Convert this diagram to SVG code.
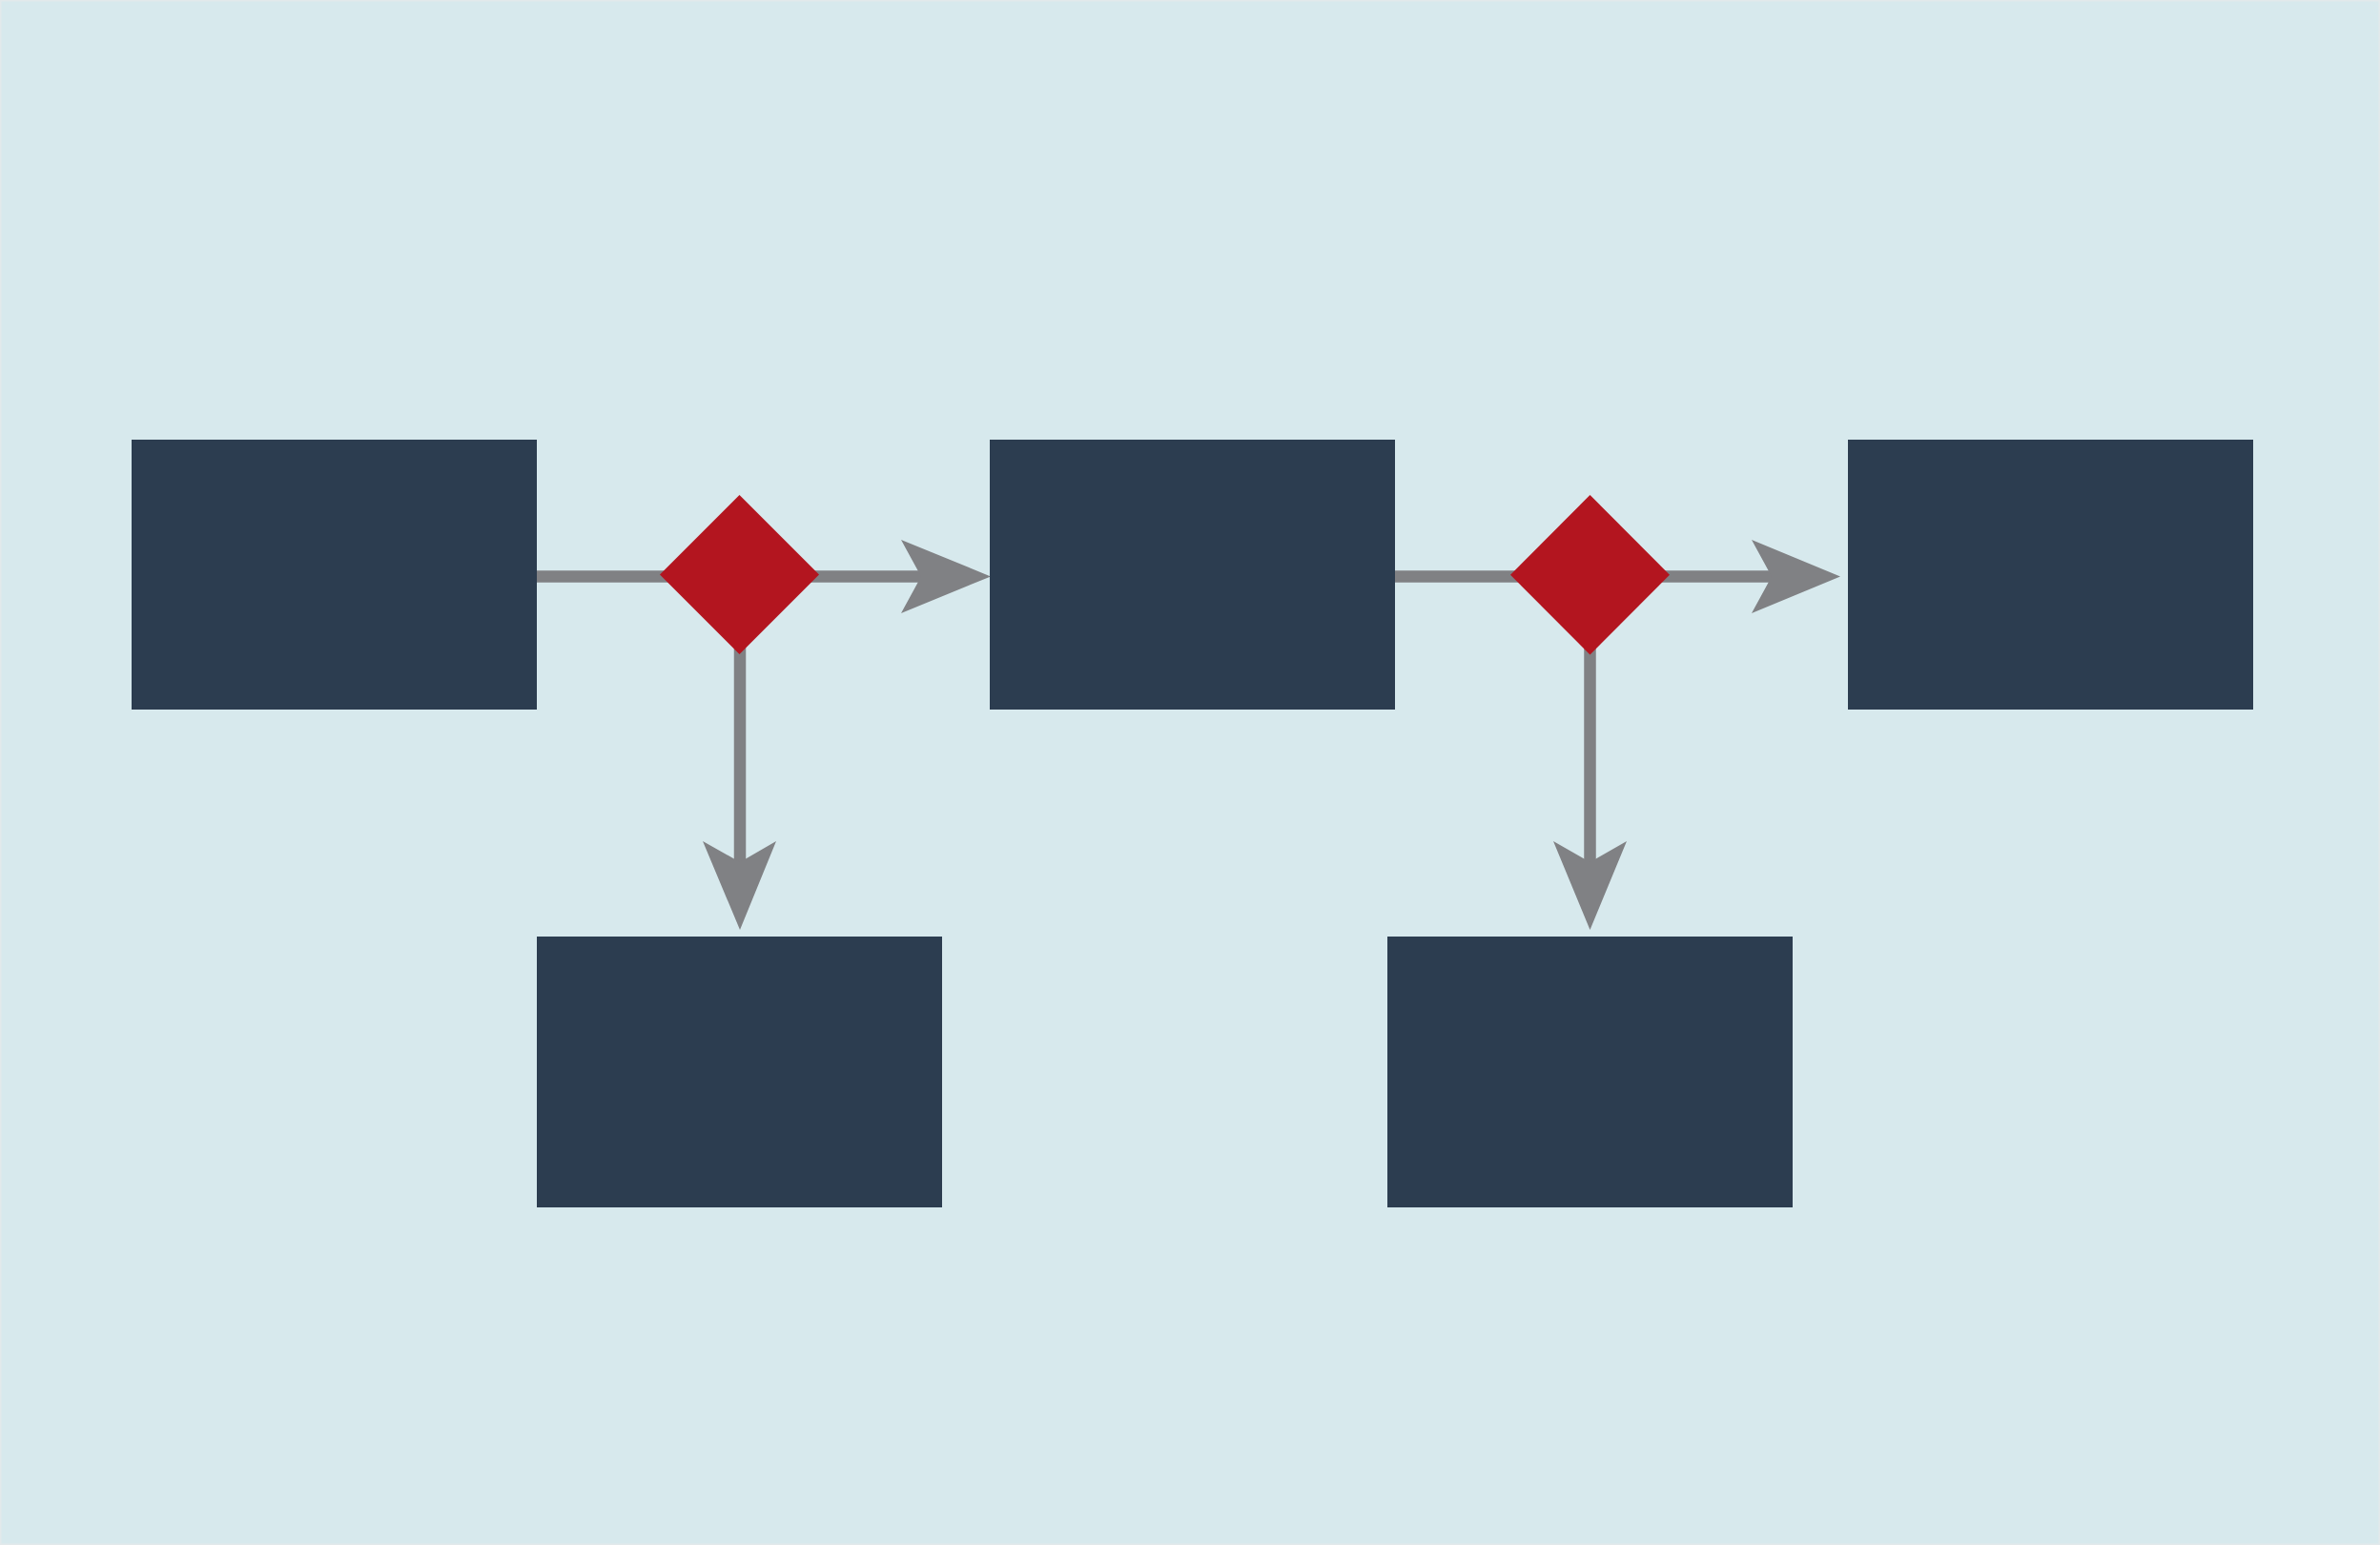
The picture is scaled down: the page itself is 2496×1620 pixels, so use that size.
<svg xmlns="http://www.w3.org/2000/svg" width="2496" height="1620" viewBox="0 0 2496 1620">
<style>
.bg{fill:#d7e9ed;stroke:#e2e9eb;stroke-width:3}
.box{fill:#2c3d50}
.dec{fill:#b3151f}
.ln{stroke:#808184;stroke-width:12.5;fill:none}
.ah{fill:#808184}
</style>
<rect class="bg" x="0" y="0" width="2496" height="1620"/>
<g id="connectors">
<line class="ln" x1="562" y1="604.4" x2="970" y2="604.4"/>
<polygon class="ah" points="1039,604.4 945,566 966,604.4 945,643"/>
<line class="ln" x1="776" y1="602" x2="776" y2="906"/>
<polygon class="ah" points="776,975 737,882 776,904 814,882"/>
<line class="ln" x1="1462" y1="604.5" x2="1862" y2="604.5"/>
<polygon class="ah" points="1930,604.5 1837,566 1858,604.5 1837,643"/>
<line class="ln" x1="1667.5" y1="602" x2="1667.5" y2="906"/>
<polygon class="ah" points="1667.5,975 1629,882 1667.5,904 1706,882"/>
</g>
<g id="box1"><rect class="box" x="138" y="461" width="425" height="283"/></g>
<g id="box2"><rect class="box" x="1038" y="461" width="425" height="283"/></g>
<g id="box3"><rect class="box" x="1938" y="461" width="425" height="283"/></g>
<g id="box4"><rect class="box" x="563" y="982" width="425" height="284"/></g>
<g id="box5"><rect class="box" x="1455" y="982" width="425" height="284"/></g>
<g id="decision1"><polygon class="dec" points="775.5,519 859,602.5 775.5,686 692,602.5"/></g>
<g id="decision2"><polygon class="dec" points="1667.5,519 1751,602.7 1667.5,686.5 1584,602.7"/></g>
</svg>
